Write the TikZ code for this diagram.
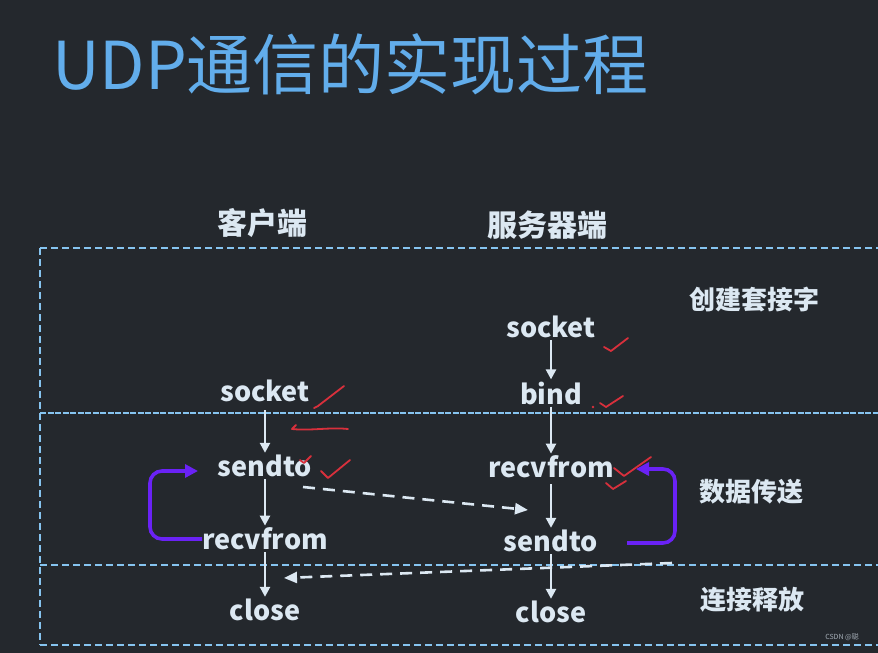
\documentclass[tikz,border=0pt]{standalone}
\usepackage{fontspec}
\setmainfont{Noto Sans CJK SC}
\usetikzlibrary{arrows.meta}
\definecolor{bgc}{HTML}{24282D}
\definecolor{titleblue}{HTML}{62ADEB}
\definecolor{txt}{HTML}{DCE8F2}
\definecolor{linec}{HTML}{86C4F0}
\definecolor{purp}{HTML}{6A22F5}
\definecolor{redc}{HTML}{D8303C}
\tikzset{
  lbl/.style={font=\bfseries\fontsize{27}{27}\selectfont, text=txt, inner sep=2pt},
  head/.style={font=\bfseries\fontsize{30}{30}\selectfont, text=txt, inner sep=0pt},
  side/.style={font=\bfseries\fontsize{26}{26}\selectfont, text=txt, inner sep=0pt},
  sep/.style={draw=linec, line width=1.8pt, dash pattern=on 7pt off 4pt},
  sepdense/.style={draw=linec, line width=1.8pt, dash pattern=on 6pt off 1.5pt},
  warr/.style={draw=txt, line width=2.4pt, -{Triangle[length=10pt,width=10pt]}},
  dwarr/.style={draw=txt, line width=2.6pt, dash pattern=on 12pt off 8pt, -{Triangle[length=13pt,width=11pt]}},
  parr/.style={draw=purp, line width=3.6pt, rounded corners=12pt, -{Triangle[length=13pt,width=13pt]}},
  chk/.style={draw=redc, line width=1.8pt, line cap=round, line join=round},
}
\begin{document}
\begin{tikzpicture}[x=1pt,y=-1pt]
\fill[bgc] (0,0) rectangle (878,653);
\useasboundingbox (0,0) rectangle (878,653);

% title
\node[anchor=west, inner sep=0pt, text=titleblue, font=\fontsize{66}{66}\selectfont] (title) at (52,64) {UDP通信的实现过程};

% column heads
\node[head] (hc) at (262,223) {客户端};
\node[head] (hs) at (547,225) {服务器端};

% frame and separators
\coordinate (tl) at (40,248);
\coordinate (tr) at (878,248);
\coordinate (bl) at (40,645);
\coordinate (br) at (878,645);
\coordinate (m1l) at (40,413);
\coordinate (m1r) at (878,413);
\coordinate (m2l) at (40,565);
\coordinate (m2r) at (878,565);
\draw[sep] (tl) -- (tr);
\draw[sep] (tl) -- (bl);
\draw[sepdense] (m1l) -- (m1r);
\draw[sep] (m2l) -- (m2r);
\draw[sep] (bl) -- (br);

% side labels
\node[side] (s1) at (754,300) {创建套接字};
\node[side] (s2) at (751,492) {数据传送};
\node[side] (s3) at (752,600) {连接释放};

% client column
\node[lbl] (csock) at (265,391) {socket};
\node[lbl] (csend) at (265,466) {sendto};
\node[lbl] (crecv) at (265,539) {recvfrom};
\node[lbl] (cclose) at (265,610) {close};

% server column
\node[lbl] (ssock) at (551,327) {socket};
\node[lbl] (sbind) at (551,393) {bind};
\node[lbl] (srecv) at (551,467) {recvfrom};
\node[lbl] (ssend) at (551,541) {sendto};
\node[lbl] (sclose) at (551,612) {close};

% vertical arrows
\draw[warr, shorten <=6pt] (csock) -- (csend);
\draw[warr] (csend) -- (crecv);
\draw[warr] (crecv) -- (cclose);
\draw[warr] (ssock) -- (sbind);
\draw[warr] (sbind) -- (srecv);
\draw[warr, shorten <=4pt] (srecv) -- (ssend);
\draw[warr] (ssend) -- (sclose);

% dashed message arrows
\coordinate (d1s) at (303,487);
\coordinate (d1e) at (528,510);
\draw[dwarr] (d1s) -- (d1e);
\coordinate (d2s) at (672,563);
\coordinate (d2e) at (284,578);
\draw[dwarr] (d2s) -- (d2e);

% purple loops
\coordinate (cl1) at (202,539);
\coordinate (cl2) at (198,471);
\draw[parr] (cl1) -- (150,539) -- (150,471) -- (cl2);
\coordinate (sl1) at (627,543);
\coordinate (sl2) at (636,469);
\draw[parr] (sl1) -- (675,543) -- (675,469) -- (sl2);

% red handwritten marks
\draw[chk] (314,408) -- (318,406) -- (344,386);
\draw[chk] (296,425) -- (292,429) .. controls (310,431) and (330,427) .. (348,429);
\draw[chk] (300,460) -- (304,463) -- (311,456);
\draw[chk] (321,471) -- (328,478) -- (350,460);
\draw[chk] (604,347) -- (611,351) -- (628,338);
\draw[chk] (600,403) -- (606,407) -- (623,396);
\fill[redc] (593,407) circle (1.3pt);
\draw[chk] (614,468) -- (624,476) -- (651,457);
\draw[chk] (606,483) -- (613,489) -- (626,481);

% watermark
\node[inner sep=0pt, text=txt!70!bgc, font=\fontsize{7}{7}\selectfont] (wm) at (842,637) {CSDN @聪};
\end{tikzpicture}
\end{document}
